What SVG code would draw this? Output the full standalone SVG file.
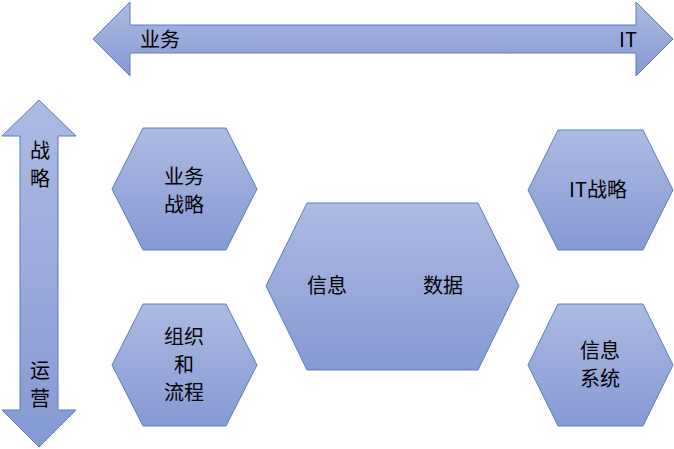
<svg xmlns="http://www.w3.org/2000/svg" width="674" height="449" viewBox="0 0 674 449">
<style>
.s{stroke:#5b7cc4;stroke-width:1;fill:url(#g)}
.sh{stroke:#5b7cc4;stroke-width:1;fill:url(#gh)}
text{font-family:"Noto Sans CJK SC","Liberation Sans",sans-serif;font-size:20px;fill:#000;text-anchor:middle}
</style>
<defs>
<linearGradient id="g" x1="0" y1="0" x2="0" y2="1"><stop offset="0" stop-color="#adbbe2"/><stop offset="1" stop-color="#8599d3"/></linearGradient>
<linearGradient id="gh" x1="0" y1="0" x2="1" y2="0"><stop offset="0" stop-color="#a3b3e0"/><stop offset="1" stop-color="#8a9dd6"/></linearGradient>
</defs>
<g id="arrow-h"><path class="s" d="M93,39 L130,2 L130,25 L636,25 L636,2 L673,39 L636,76 L636,53 L130,53 L130,76 Z"/>
<text x="160" y="47">业务</text><text x="628" y="47">IT</text></g>
<g id="arrow-v"><path class="s" d="M39,100 L76,136 L58,136 L58,410 L76,410 L39,447 L2,410 L20,410 L20,136 L2,136 Z"/>
<text x="40" y="158">战</text><text x="40" y="186">略</text><text x="40" y="378">运</text><text x="40" y="406">营</text></g>
<g id="n1"><polygon class="s" points="112,189 143,128 226,128 257,189 226,250 143,250"/><text x="184" y="184">业务</text><text x="184" y="212">战略</text></g>
<g id="n2"><polygon class="s" points="112,365 143,304 226,304 257,365 226,426 143,426"/><text x="184" y="344">组织</text><text x="184" y="372">和</text><text x="184" y="400">流程</text></g>
<g id="n3"><polygon class="s" points="528,190 558,130 643,130 673,190 643,250 558,250"/><text x="598" y="197">IT战略</text></g>
<g id="n4"><polygon class="s" points="528,365 558,304 643,304 673,365 643,426 558,426"/><text x="600" y="358">信息</text><text x="600" y="386">系统</text></g>
<g id="n5"><polygon class="s" points="266,286 307,203 478,203 519,286 478,370 307,370"/><text x="327" y="293">信息</text><text x="443" y="293">数据</text></g>
<g id="connectors"/>
</svg>
